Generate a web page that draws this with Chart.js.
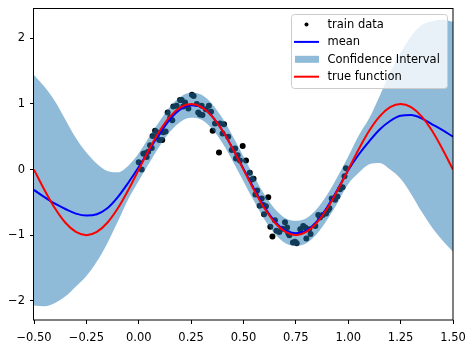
<!DOCTYPE html>
<html>
<head>
<meta charset="utf-8">
<script src="https://cdn.jsdelivr.net/npm/chart.js@4"></script>
<style>
html, body { margin: 0; padding: 0; background: #fff; }
</style>
</head>
<body>
<canvas id="myChart" width="474" height="348"></canvas>
<script>
// prediction grid
const gridX = [-0.5, -0.45, -0.4, -0.35, -0.3, -0.25, -0.2, -0.15, -0.1, -0.05, 0, 0.05, 0.1, 0.15, 0.2, 0.25, 0.3, 0.35, 0.4, 0.45, 0.5,
  0.55, 0.6, 0.65, 0.7, 0.75, 0.8, 0.85, 0.9, 0.95, 1, 1.05, 1.1, 1.15, 1.2, 1.25, 1.3, 1.35, 1.4, 1.45, 1.5];
const trueY = [0, -0.31, -0.59, -0.81, -0.95, -1, -0.95, -0.81, -0.59, -0.31, 0, 0.31, 0.59, 0.81, 0.95, 1, 0.95, 0.81, 0.59, 0.31, 0,
  -0.31, -0.59, -0.81, -0.95, -1, -0.95, -0.81, -0.59, -0.31, 0, 0.31, 0.59, 0.81, 0.95, 1, 0.95, 0.81, 0.59, 0.31, 0];
const meanY = [-0.31, -0.42, -0.52, -0.60, -0.67, -0.70, -0.68, -0.59, -0.42, -0.20, 0.04, 0.30, 0.55, 0.77, 0.92, 0.98, 0.95, 0.81, 0.59, 0.31, 0.01,
  -0.29, -0.57, -0.79, -0.93, -0.97, -0.93, -0.79, -0.57, -0.30, -0.01, 0.23, 0.43, 0.61, 0.74, 0.82, 0.83, 0.78, 0.69, 0.60, 0.50];
const upperY = [1.44, 1.26, 1.04, 0.76, 0.48, 0.26, 0.09, -0.02, -0.04, 0.06, 0.25, 0.50, 0.74, 0.96, 1.11, 1.17, 1.14, 1.00, 0.78, 0.50, 0.20,
  -0.10, -0.38, -0.60, -0.74, -0.78, -0.74, -0.60, -0.38, -0.10, 0.20, 0.52, 0.78, 1.12, 1.48, 1.78, 2.03, 2.20, 2.26, 2.28, 2.25];
const lowerY = [-2.07, -2.08, -2.03, -1.93, -1.78, -1.62, -1.40, -1.12, -0.79, -0.45, -0.17, 0.10, 0.36, 0.58, 0.73, 0.79, 0.76, 0.62, 0.40, 0.12, -0.18,
  -0.48, -0.76, -0.98, -1.12, -1.16, -1.12, -0.98, -0.76, -0.50, -0.22, -0.05, 0.08, 0.10, 0.00, -0.14, -0.37, -0.64, -0.88, -1.08, -1.25];

// training samples
const trainX = [0.000, 0.014, 0.022, 0.030, 0.038, 0.045, 0.054, 0.062, 0.066, 0.078, 0.086, 0.093, 0.098, 0.112, 0.117, 0.128, 0.138, 0.150, 0.160, 0.165,
  0.181, 0.197, 0.205, 0.212, 0.221, 0.237, 0.254, 0.262, 0.277, 0.284, 0.292, 0.300, 0.304, 0.320, 0.335, 0.345, 0.353, 0.364, 0.383, 0.388,
  0.400, 0.407, 0.427, 0.444, 0.460, 0.464, 0.483, 0.496, 0.512, 0.472, 0.530, 0.540, 0.548, 0.557, 0.565, 0.577, 0.587, 0.595, 0.598, 0.607,
  0.618, 0.628, 0.638, 0.650, 0.657, 0.671, 0.685, 0.698, 0.708, 0.714, 0.719, 0.736, 0.746, 0.754, 0.771, 0.785, 0.795, 0.800, 0.813, 0.820,
  0.843, 0.857, 0.865, 0.878, 0.894, 0.903, 0.910, 0.921, 0.937, 0.948, 0.961, 0.973, 0.982, 0.989];
const trainY = [0.11, 0.00, 0.24, 0.25, 0.19, 0.27, 0.37, 0.33, 0.51, 0.59, 0.50, 0.56, 0.45, 0.45, 0.57, 0.58, 0.87, 0.79, 0.75, 0.96,
  0.97, 1.06, 1.06, 0.96, 1.02, 0.93, 1.14, 1.12, 1.00, 0.87, 0.84, 0.97, 0.83, 0.92, 0.97, 0.88, 0.59, 0.70, 0.26, 0.70,
  0.55, 0.69, 0.50, 0.30, 0.32, 0.17, 0.14, 0.36, 0.14, 0.22, -0.05, -0.15, -0.14, -0.38, -0.32, -0.55, -0.44, -0.54, -0.68, -0.56,
  -0.42, -0.87, -1.02, -0.77, -0.93, -0.95, -0.90, -0.80, -0.88, -0.97, -1.00, -1.11, -1.10, -1.12, -0.91, -0.86, -0.88, -1.05, -0.91, -0.98,
  -0.86, -0.69, -0.73, -0.69, -0.67, -0.62, -0.59, -0.44, -0.46, -0.41, -0.30, -0.27, -0.10, 0.02];

const xTicks = [-0.5, -0.25, 0, 0.25, 0.5, 0.75, 1, 1.25, 1.5];
const yTicks = [-2, -1, 0, 1, 2];
const seriesLabels = ['train data', 'mean', 'Confidence Interval', 'true function'];

const FONT = 'DejaVu Sans';
const pts = (xs, ys) => xs.map((x, i) => ({ x: x, y: ys[i] }));
const minus = s => s.replace('-', '\u2212');

const lineStyle = {
  type: 'line',
  showLine: true,
  pointRadius: 0,
  borderWidth: 2,
  cubicInterpolationMode: 'monotone',
  fill: false
};

// matplotlib style legend inside the axes, upper right
const boxLegend = {
  id: 'boxLegend',
  afterDraw(chart) {
    const ctx = chart.ctx;
    const ca = chart.chartArea;
    const bw = 156, bh = 74;
    const bx = ca.right - 6 - bw, by = ca.top + 6;
    ctx.save();
    ctx.beginPath();
    ctx.roundRect(bx + 0.5, by + 0.5, bw, bh, 3);
    ctx.fillStyle = 'rgba(255,255,255,0.8)';
    ctx.fill();
    ctx.strokeStyle = '#cccccc';
    ctx.lineWidth = 1;
    ctx.stroke();

    const order = [0, 1, 2, 4];
    ctx.font = '11.5px "' + FONT + '"';
    ctx.textBaseline = 'middle';
    ctx.textAlign = 'left';
    order.forEach((di, i) => {
      const ds = chart.data.datasets[di];
      const cy = by + 10.5 + i * 17.4;
      const hx = bx + 3;
      if (di === 0) {
        ctx.beginPath();
        ctx.arc(hx + 12.5, cy, 2, 0, Math.PI * 2);
        ctx.fillStyle = ds.backgroundColor;
        ctx.fill();
      } else if (di === 2) {
        ctx.fillStyle = ds.backgroundColor;
        ctx.fillRect(hx + 1, cy - 3.5, 24, 7);
      } else {
        ctx.beginPath();
        ctx.moveTo(hx, cy);
        ctx.lineTo(hx + 25, cy);
        ctx.strokeStyle = ds.borderColor;
        ctx.lineWidth = 2;
        ctx.stroke();
      }
      ctx.fillStyle = '#000';
      ctx.fillText(ds.label, bx + 36.5, cy + 0.5);
    });
    ctx.restore();
  }
};

// full box around the axes
const frame = {
  id: 'frame',
  afterDatasetsDraw(chart) {
    const ctx = chart.ctx;
    const ca = chart.chartArea;
    ctx.save();
    ctx.strokeStyle = '#000';
    ctx.lineWidth = 1;
    ctx.strokeRect(ca.left - 0.5, ca.top + 0.5, ca.right - ca.left + 0.5, ca.bottom - ca.top - 0.5);
    ctx.restore();
  }
};

const config = {
  type: 'scatter',
  data: {
    datasets: [
      {
        label: seriesLabels[0],
        data: pts(trainX, trainY),
        backgroundColor: '#000',
        borderWidth: 0,
        pointRadius: 3,
        order: 5
      },
      Object.assign({}, lineStyle, {
        label: seriesLabels[1],
        data: pts(gridX, meanY),
        borderColor: '#0000ff',
        order: 2
      }),
      Object.assign({}, lineStyle, {
        label: seriesLabels[2],
        data: pts(gridX, upperY),
        borderColor: 'transparent',
        borderWidth: 0,
        backgroundColor: 'rgba(31,119,180,0.5)',
        fill: '+1',
        order: 4
      }),
      Object.assign({}, lineStyle, {
        label: 'lower',
        data: pts(gridX, lowerY),
        borderColor: 'transparent',
        borderWidth: 0,
        order: 3
      }),
      Object.assign({}, lineStyle, {
        label: seriesLabels[3],
        data: pts(gridX, trueY),
        borderColor: '#ff0000',
        order: 1
      })
    ]
  },
  options: {
    responsive: false,
    animation: false,
    devicePixelRatio: 1,
    layout: { padding: { top: 8, right: 21, left: 0, bottom: 0 } },
    plugins: {
      legend: { display: false },
      tooltip: { enabled: false }
    },
    scales: {
      x: {
        type: 'linear',
        min: -0.5,
        max: 1.5,
        afterBuildTicks: s => { s.ticks = xTicks.map(v => ({ value: v })); },
        afterFit: s => { s.height = 28; s.paddingLeft = 0; s.paddingRight = 0; },
        border: { display: false },
        grid: { display: true, drawOnChartArea: false, tickLength: 4, color: '#000', lineWidth: 1 },
        ticks: {
          color: '#000',
          padding: 7,
          maxRotation: 0,
          font: { family: FONT, size: 11.5 },
          callback: v => minus(v.toFixed(2))
        }
      },
      y: {
        type: 'linear',
        min: -2.29,
        max: 2.46,
        afterBuildTicks: s => { s.ticks = yTicks.map(v => ({ value: v })); },
        afterFit: s => { s.width = 34; s.paddingTop = 0; s.paddingBottom = 0; },
        border: { display: false },
        grid: { display: true, drawOnChartArea: false, tickLength: 4, color: '#000', lineWidth: 1 },
        ticks: {
          color: '#000',
          padding: 5,
          font: { family: FONT, size: 11.5 },
          callback: v => minus(String(v))
        }
      }
    }
  },
  plugins: [frame, boxLegend]
};

const myChart = new Chart(document.getElementById('myChart'), config);
</script>
</body>
</html>
